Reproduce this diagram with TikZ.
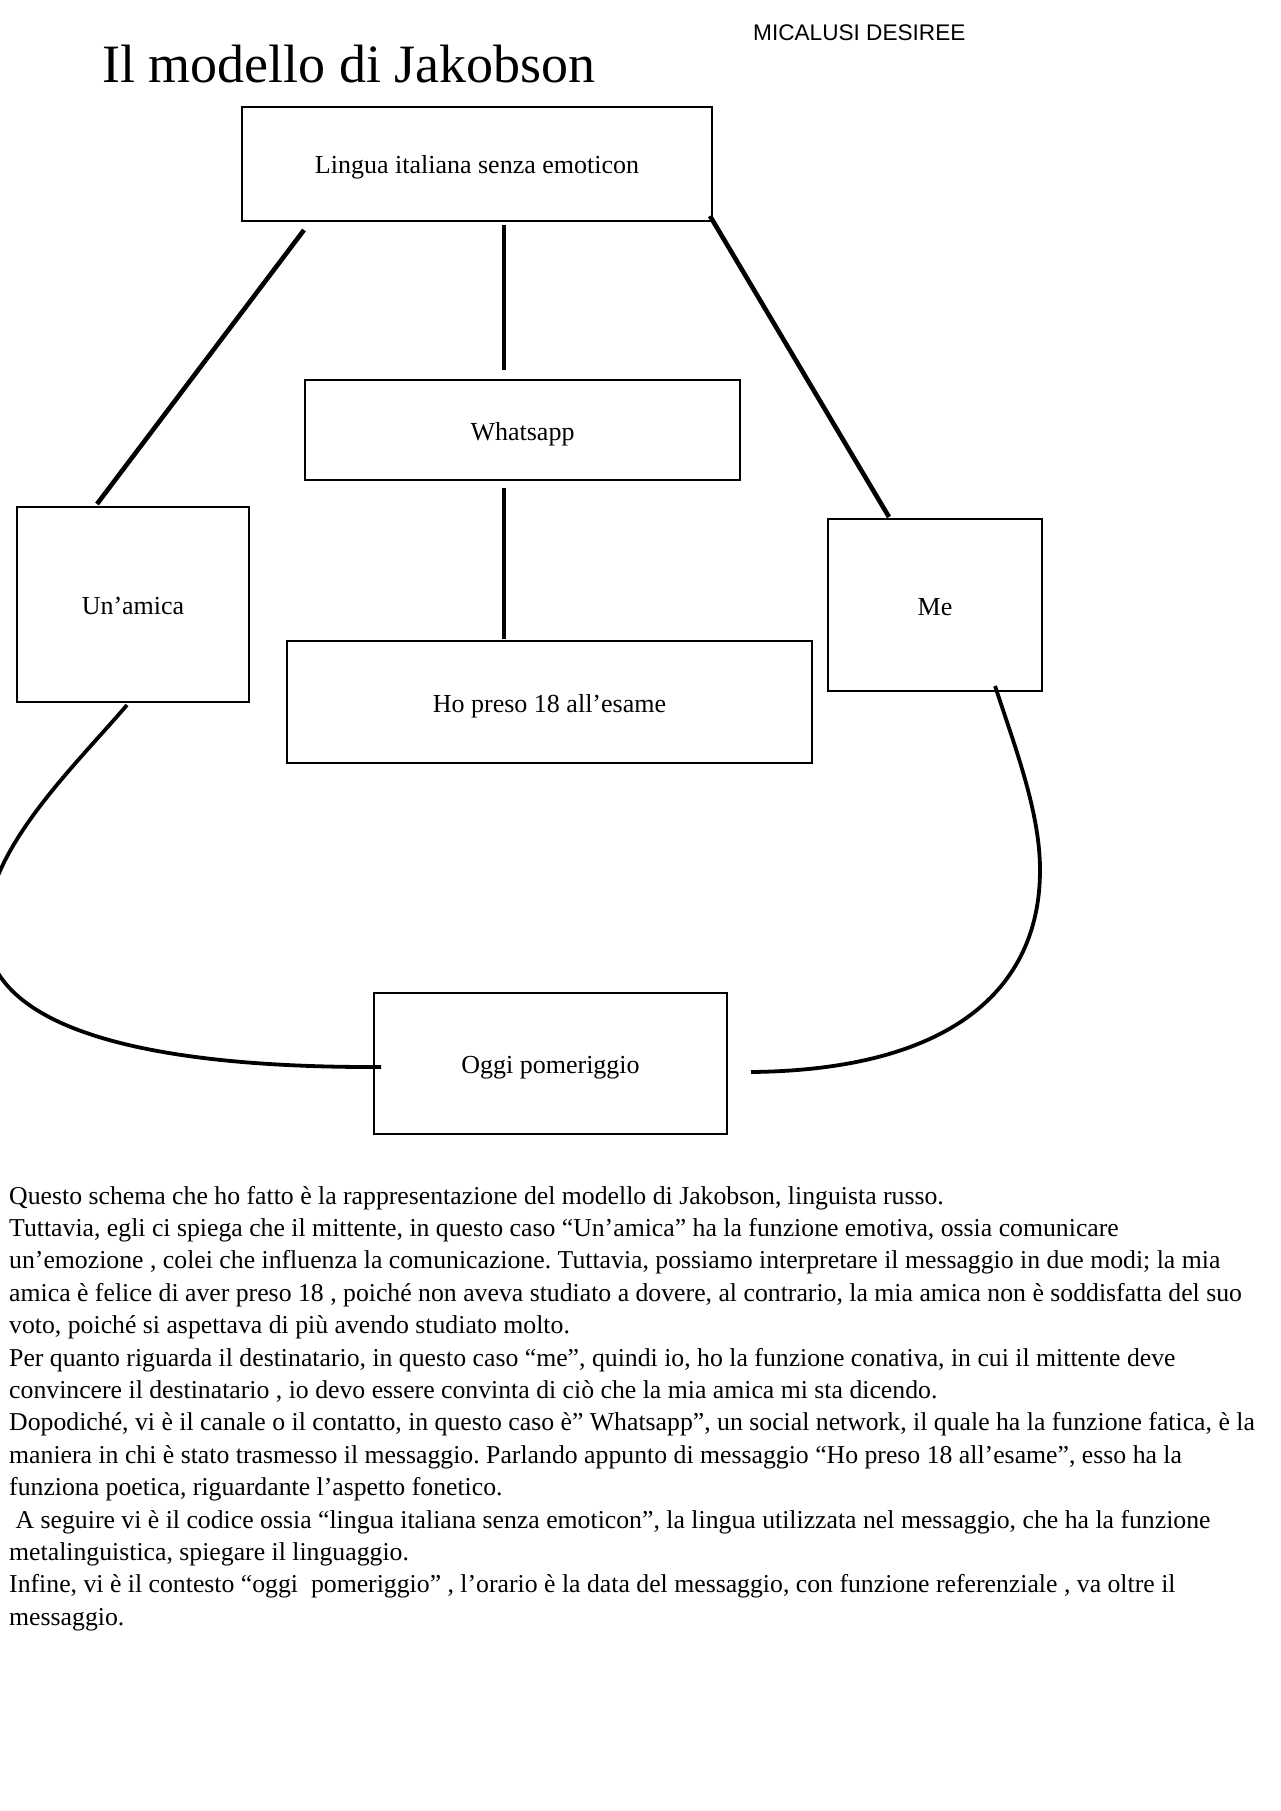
\documentclass[tikz,border=0pt]{standalone}
\usepackage{fontspec}
\setmainfont{Liberation Serif}
\newfontfamily\sansf{Liberation Sans}
\usetikzlibrary{calc}
\frenchspacing
\begin{document}
\begin{tikzpicture}[x=1pt,y=-1pt,
  box/.style={draw, line width=2pt, inner sep=0pt, text height=20pt, text depth=0pt, font=\fontsize{26}{30}\selectfont},
  link/.style={line width=4.6pt},
  curve/.style={line width=3.8pt},
  para/.style={anchor=base west, inner sep=0pt, font=\fontsize{25.75}{30}\selectfont}]
\useasboundingbox[fill=white] (0,0) rectangle (1280,1811);

% headings
\node[anchor=base west, inner sep=0pt, font=\fontsize{54}{60}\selectfont] (title) at (102,83) {Il modello di Jakobson};
\node[anchor=base west, inner sep=0pt, font=\sansf\fontsize{22.6}{26}\selectfont] (author) at (753,41) {MICALUSI DESIREE};

% boxes
\node[box, minimum width=470pt, minimum height=114pt] (lingua) at (477,164) {Lingua italiana senza emoticon};
\node[box, minimum width=435pt, minimum height=100pt] (whatsapp) at (522.5,430) {Whatsapp};
\node[box, minimum width=232pt, minimum height=195pt] (amica) at (133,604.5) {Un’amica};
\node[box, minimum width=214pt, minimum height=172pt] (me) at (935,605) {Me};
\node[box, minimum width=525pt, minimum height=122pt] (hopreso) at (549.5,702) {Ho preso 18 all’esame};
\node[box, minimum width=353pt, minimum height=141pt] (oggi) at (550.5,1063.5) {Oggi pomeriggio};

% straight connectors
\draw[link] ($(lingua.south west)+(63,8)$) -- ($(amica.north west)+(81,-2)$);
\draw[link] ($(lingua.south)+(27,3)$) -- ($(whatsapp.north)+(-18.5,-9)$);
\draw[link] ($(lingua.south east)+(-3,-6)$) -- ($(me.north west)+(62,-1)$);
\draw[link] ($(whatsapp.south)+(-18.5,7)$) -- ($(hopreso.north)+(-45.5,-1)$);

% curved connectors
\coordinate (lbend) at (-14,930);
\coordinate (rbend) at (1040,870);
\draw[curve] ($(amica.south west)+(111,2)$) .. controls (73,768) and (-14,850) .. (lbend)
  .. controls (-14,1030) and (150,1068) .. ($(oggi.west)+(8,3.5)$);
\draw[curve] ($(me.south west)+(168,-6)$) .. controls (1018,755) and (1040,815) .. (rbend)
  .. controls (1040,990) and (950,1070) .. ($(oggi.east)+(23,8.5)$);

% paragraph
\node[para] (p1) at (9,1204) {Questo schema che ho fatto è la rappresentazione del modello di Jakobson, linguista russo.};
\node[para] (p2) at (9,1236.4) {Tuttavia, egli ci spiega che il mittente, in questo caso “Un’amica” ha la funzione emotiva, ossia comunicare};
\node[para] (p3) at (9,1268.8) {un’emozione , colei che influenza la comunicazione. Tuttavia, possiamo interpretare il messaggio in due modi; la mia};
\node[para] (p4) at (9,1301.2) {amica è felice di aver preso 18 , poiché non aveva studiato a dovere, al contrario, la mia amica non è soddisfatta del suo};
\node[para] (p5) at (9,1333.6) {voto, poiché si aspettava di più avendo studiato molto.};
\node[para] (p6) at (9,1366) {Per quanto riguarda il destinatario, in questo caso “me”, quindi io, ho la funzione conativa, in cui il mittente deve};
\node[para] (p7) at (9,1398.4) {convincere il destinatario , io devo essere convinta di ciò che la mia amica mi sta dicendo.};
\node[para] (p8) at (9,1430.8) {Dopodiché, vi è il canale o il contatto, in questo caso è” Whatsapp”, un social network, il quale ha la funzione fatica, è la};
\node[para] (p9) at (9,1463.2) {maniera in chi è stato trasmesso il messaggio. Parlando appunto di messaggio “Ho preso 18 all’esame”, esso ha la};
\node[para] (p10) at (9,1495.6) {funziona poetica, riguardante l’aspetto fonetico.};
\node[para] (p11) at (9,1528) {\hspace*{0.25em}A seguire vi è il codice ossia “lingua italiana senza emoticon”, la lingua utilizzata nel messaggio, che ha la funzione};
\node[para] (p12) at (9,1560.4) {metalinguistica, spiegare il linguaggio.};
\node[para] (p13) at (9,1592.8) {Infine, vi è il contesto “oggi\ \ pomeriggio” , l’orario è la data del messaggio, con funzione referenziale , va oltre il};
\node[para] (p14) at (9,1625.2) {messaggio.};
\end{tikzpicture}
\end{document}
